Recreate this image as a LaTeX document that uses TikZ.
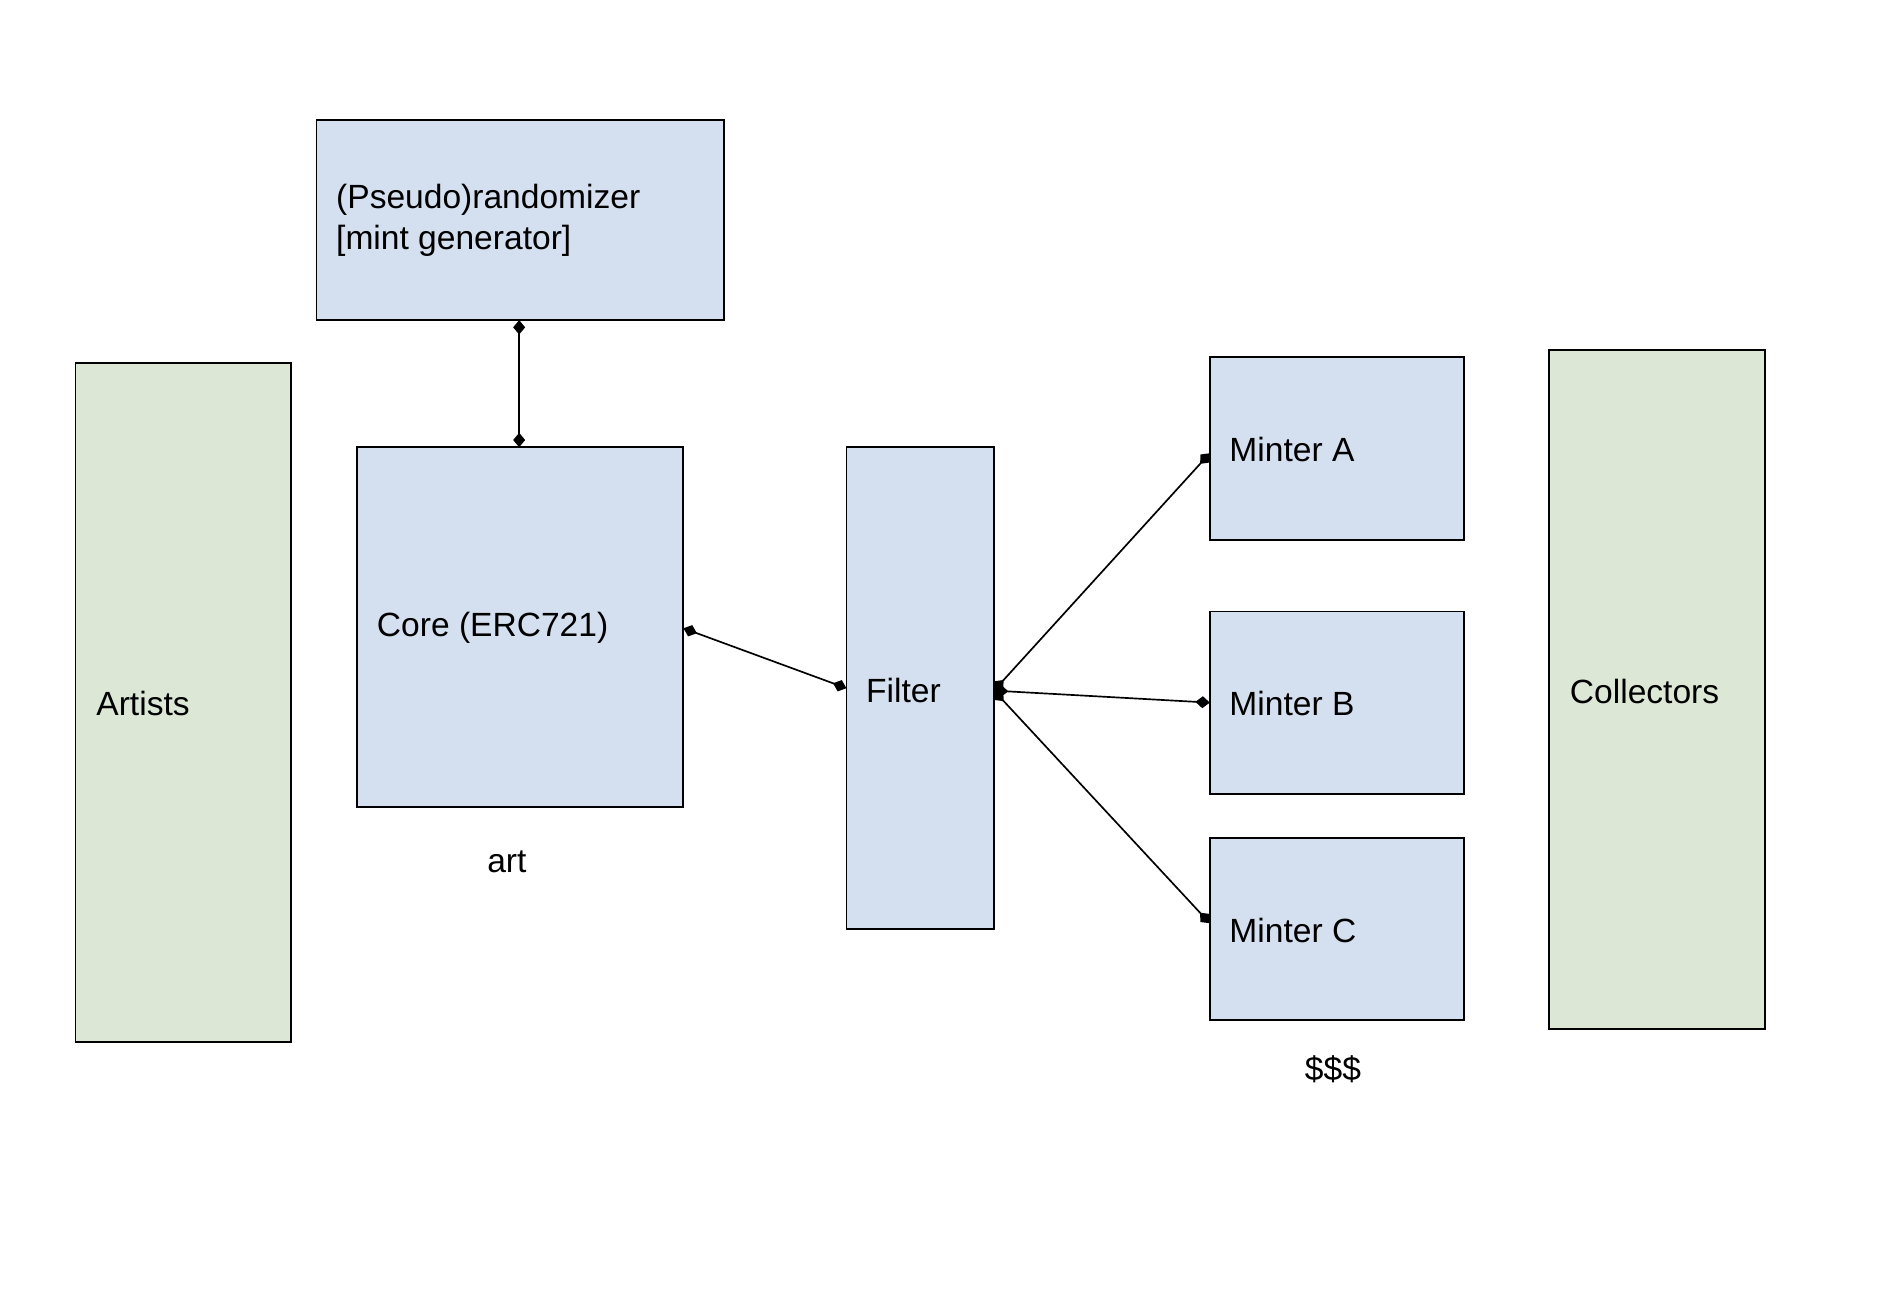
\documentclass[tikz,border=0pt]{standalone}
\usepackage{fontspec}
\setmainfont{Liberation Sans}
\usetikzlibrary{arrows.meta}
\definecolor{bluef}{HTML}{D4E0F0}
\definecolor{greenf}{HTML}{DCE8D5}
\begin{document}
\begin{tikzpicture}[x=0.5pt,y=-0.5pt,
  box/.style={draw=black,line width=0.8pt},
  lbl/.style={anchor=west,font=\fontsize{14}{17}\selectfont,inner sep=0pt},
  con/.style={line width=0.7pt,{Diamond[length=6pt,width=5pt]}-{Diamond[length=6pt,width=5pt]}}]
\useasboundingbox[fill=white] (0,0) rectangle (1568,1076);
\filldraw[box,fill=bluef] (264,100) rectangle (604,267);
\node[lbl,align=left] (rt) at (280,184) {(Pseudo)randomizer\\{}{[mint generator]}};
\filldraw[box,fill=greenf] (63,303) rectangle (243,869);
\node[lbl] (art1) at (80,587) {Artists};
\filldraw[box,fill=bluef] (298,373) rectangle (570,673);
\node[lbl] (core) at (314,524) {Core (ERC721)};
\node[lbl] (art) at (406,719) {art};
\filldraw[box,fill=bluef] (706,373) rectangle (829,775);
\node[lbl] (filt) at (722,576) {Filter};
\filldraw[box,fill=bluef] (1009,298) rectangle (1221,450);
\node[lbl] (ma) at (1025,375) {Minter A};
\filldraw[box,fill=bluef] (1009,510) rectangle (1221,662);
\node[lbl] (mb) at (1025,587) {Minter B};
\filldraw[box,fill=bluef] (1009,699) rectangle (1221,851);
\node[lbl] (mc) at (1025,776) {Minter C};
\node[lbl] (usd) at (1088,892) {\$\$\$};
\filldraw[box,fill=greenf] (1292,292) rectangle (1472,858);
\node[lbl] (col) at (1309,577) {Collectors};
\coordinate (rb) at (433,267); \coordinate (ct) at (433,373);
\coordinate (cr) at (570,524); \coordinate (fl) at (706,574);
\coordinate (fr) at (829,576);
\coordinate (al) at (1009,378); \coordinate (bl) at (1009,586); \coordinate (cl) at (1009,770);
\draw[con] (rb) -- (ct);
\draw[con] (cr) -- (fl);
\draw[con] (fr) -- (al);
\draw[con] (fr) -- (bl);
\draw[con] (fr) -- (cl);
\end{tikzpicture}
\end{document}
